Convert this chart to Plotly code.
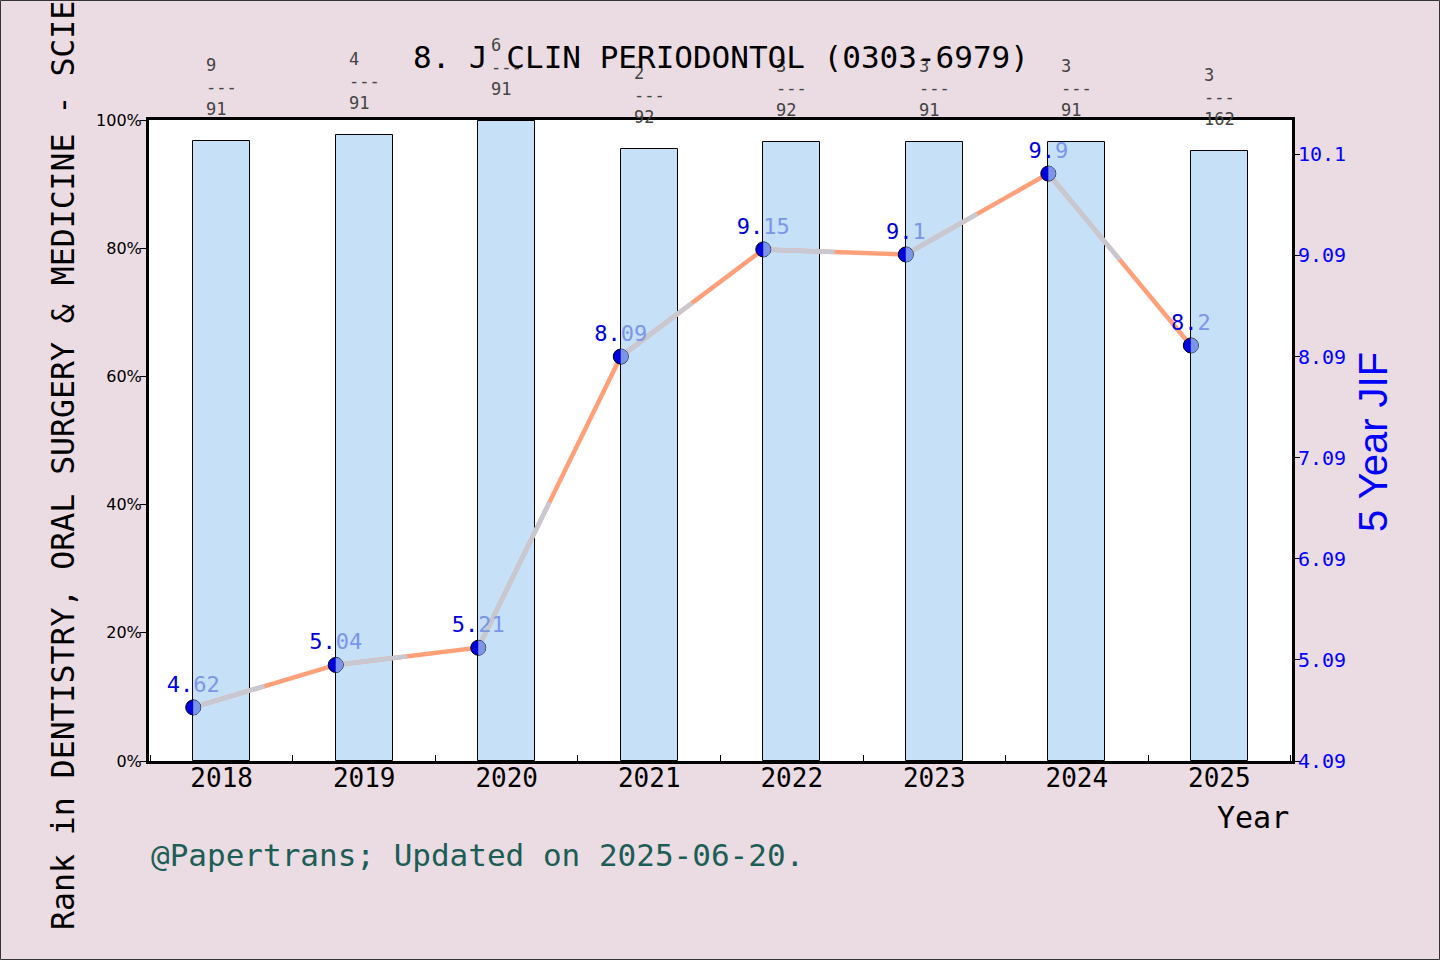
import plotly.graph_objects as go

# ---- data ----
years = ["2018", "2019", "2020", "2021", "2022", "2023", "2024", "2025"]
jif5 = [4.62, 5.04, 5.21, 8.09, 9.15, 9.1, 9.9, 8.2]
bar_pct = [0.967, 0.977, 0.998, 0.955, 0.966, 0.966, 0.966, 0.952]
rank_num = ["9", "4", "6", "2", "3", "3", "3", "3"]
rank_den = ["91", "91", "91", "92", "92", "91", "91", "162"]
jif_ticks = [4.09, 5.09, 6.09, 7.09, 8.09, 9.09, 10.09]

W, H = 1440, 960
L, R, T, B = 149, 1292, 120, 761


def px(x):
    return (x - L) / (R - L)


def py(y):
    return (B - y) / (B - T)


idx = list(range(len(years)))
bar_x = [i + 0.2 for i in idx]

DARK = "#0000DD"
LIGHT = "#7B96E6"
ORANGE = "#FFA07A"
GREY = "#C8C8D2"
MONO = "DejaVu Sans Mono"

fig = go.Figure()

fig.add_trace(go.Bar(
    x=bar_x, y=bar_pct, width=0.4,
    marker=dict(color="#C5E0F7", line=dict(color="black", width=1)),
    yaxis="y", showlegend=False, hoverinfo="skip"))

# full orange line
fig.add_trace(go.Scatter(
    x=idx, y=jif5, mode="lines", yaxis="y2",
    line=dict(color=ORANGE, width=4.5), showlegend=False))

# grey first half of each segment
gx, gy = [], []
for i in range(len(idx) - 1):
    gx += [idx[i], (idx[i] + idx[i + 1]) / 2, None]
    gy += [jif5[i], (jif5[i] + jif5[i + 1]) / 2, None]
fig.add_trace(go.Scatter(
    x=gx, y=gy, mode="lines", yaxis="y2",
    line=dict(color=GREY, width=4.5), showlegend=False))

labels = []
for v in jif5:
    a, b = str(v).split(".")
    labels.append(f"<span style='color:{DARK}'>{a}.</span><span style='color:{LIGHT}'>{b}</span>")

fig.add_trace(go.Scatter(
    x=idx, y=jif5, mode="markers+text", yaxis="y2",
    marker=dict(size=15, color=DARK, line=dict(color="black", width=1)),
    text=labels, textposition="top center",
    textfont=dict(family=MONO, size=22, color=DARK),
    showlegend=False))

# right half of each marker (light blue), drawn as a pixel-sized path anchored on the point
r = 7.5
k = 0.5523 * r
half = (f"M 0,{-r} C {k},{-r} {r},{-k} {r},0 C {r},{k} {k},{r} 0,{r} Z")
shapes = []
for i in idx:
    shapes.append(dict(type="path", xref="x", yref="y2",
                       xsizemode="pixel", ysizemode="pixel",
                       xanchor=i, yanchor=jif5[i], path=half,
                       fillcolor=LIGHT, line=dict(width=0), layer="above"))

shapes.append(dict(type="rect", xref="paper", yref="paper",
                   x0=px(0.5), x1=px(W - 0.5), y0=py(H - 0.5), y1=py(0.5),
                   line=dict(color="#333333", width=1), layer="below"))

annotations = []
for i in idx:
    annotations.append(dict(
        x=bar_x[i], y=bar_pct[i], xref="x", yref="y",
        text=f"{rank_num[i]}<br>---<br>{rank_den[i]}",
        showarrow=False, xanchor="center", yanchor="bottom", yshift=20,
        align="left", font=dict(family=MONO, size=17, color="#444444")))

annotations += [
    dict(text="8. J CLIN PERIODONTOL (0303-6979)", x=0.5, y=py(57), xref="paper", yref="paper",
         showarrow=False, xanchor="center", yanchor="middle",
         font=dict(family=MONO, size=31, color="black")),
    dict(text="Rank in DENTISTRY, ORAL SURGERY & MEDICINE - SCIE", x=px(63), y=py(466),
         xref="paper", yref="paper", textangle=-90, showarrow=False,
         xanchor="center", yanchor="middle",
         font=dict(family=MONO, size=31.5, color="black")),
    dict(text="5 Year JIF", x=px(1373), y=py(442), xref="paper", yref="paper",
         textangle=-90, showarrow=False, xanchor="center", yanchor="middle",
         font=dict(family="Liberation Sans", size=40, color="#0000FF")),
    dict(text="Year", x=px(1291), y=py(817), xref="paper", yref="paper",
         showarrow=False, xanchor="right", yanchor="middle",
         font=dict(family=MONO, size=30, color="black")),
    dict(text="@Papertrans; Updated on 2025-06-20.", x=px(149), y=py(855),
         xref="paper", yref="paper", showarrow=False, xanchor="left", yanchor="middle",
         font=dict(family=MONO, size=31, color="#1B5E55")),
]

fig.update_layout(
    width=W, height=H,
    margin=dict(l=L, r=W - R, t=T, b=H - B, pad=0),
    paper_bgcolor="#EBDBE3", plot_bgcolor="white",
    bargap=0,
    xaxis=dict(range=[-0.31, 7.71], tickmode="array", tickvals=bar_x, ticktext=years,
               ticks="", showgrid=False, zeroline=False, ticklabelstandoff=-8,
               showline=True, linecolor="black", linewidth=3, mirror=True,
               tickfont=dict(family=MONO, size=26, color="black"),
               minor=dict(tick0=0.7, dtick=1, ticks="inside", ticklen=6,
                          tickcolor="black", tickwidth=1, showgrid=False)),
    yaxis=dict(range=[0, 1], tickmode="array", tickvals=[0, 0.2, 0.4, 0.6, 0.8, 1.0],
               tickformat=".0%", ticks="outside", ticklen=6, tickcolor="black",
               showgrid=False, zeroline=False, ticklabelstandoff=-5,
               showline=True, linecolor="black", linewidth=3,
               tickfont=dict(family="DejaVu Sans", size=16, color="black")),
    yaxis2=dict(range=[4.09, 10.43], overlaying="y", side="right",
                tickmode="array", tickvals=jif_ticks,
                ticktext=[f"{t:.3g}" for t in jif_ticks],
                ticks="outside", ticklen=5, tickcolor="black",
                showgrid=False, zeroline=False, ticklabelstandoff=-6,
                showline=True, linecolor="black", linewidth=3,
                tickfont=dict(family=MONO, size=20, color="#0000FF")),
    annotations=annotations,
    shapes=shapes,
)

fig.write_html("out.html")
